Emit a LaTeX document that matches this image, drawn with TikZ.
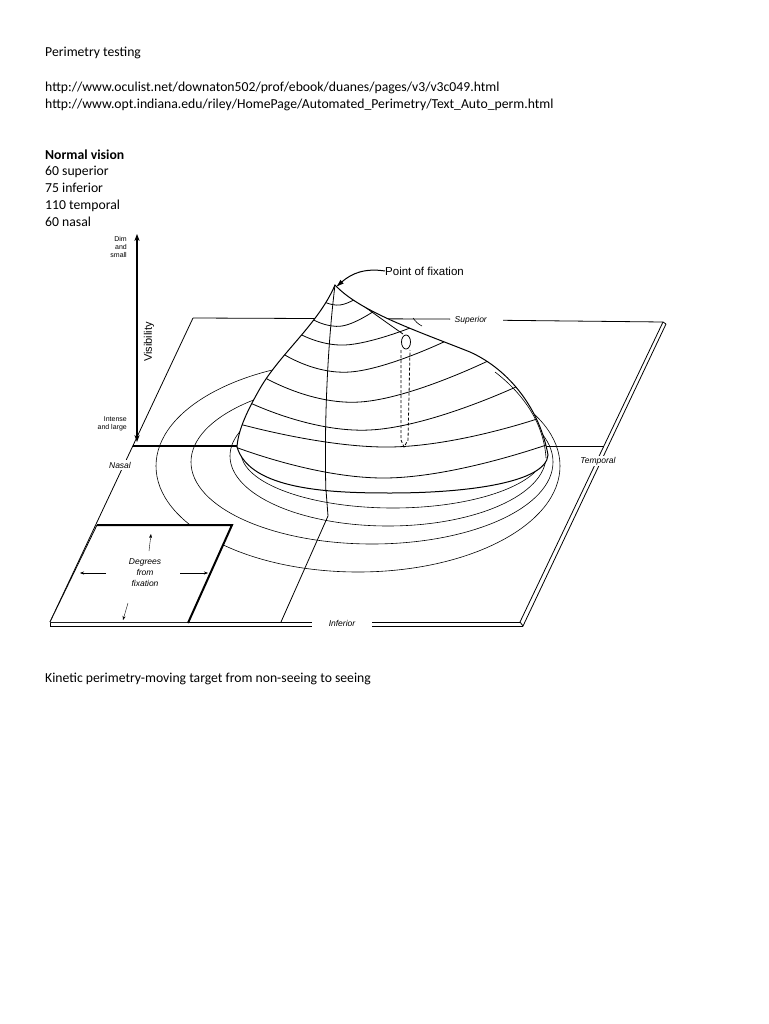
\documentclass[tikz,border=0pt]{standalone}
\usepackage{fontspec}
\setmainfont{Carlito}
\newfontfamily\lsans{Liberation Sans}
\usetikzlibrary{arrows.meta}
\begin{document}
\begin{tikzpicture}[x=1pt,y=-1pt,
  doc/.style={anchor=base west,inner sep=0pt,font=\fontsize{13.7}{16}\selectfont},
  lbl/.style={inner sep=1.5pt,fill=white,font=\lsans\itshape\fontsize{8.5}{10}\selectfont},
  tiny/.style={inner sep=0pt,align=right,font=\lsans\fontsize{7}{8}\selectfont},
  ln/.style={line width=0.8pt},
  thick2/.style={line width=2pt},
  ring/.style={line width=0.6pt}]
\useasboundingbox (0,0) rectangle (768,1024);
% document text
\node[doc] (t1) at (45,57) {Perimetry testing};
\node[doc] (t2) at (45,92) {http://www.oculist.net/downaton502/prof/ebook/duanes/pages/v3/v3c049.html};
\node[doc] (t3) at (45,109) {http://www.opt.indiana.edu/riley/HomePage/Automated\_Perimetry/Text\_Auto\_perm.html};
\node[doc,font=\bfseries\fontsize{13.7}{16}\selectfont] (t4) at (45,160) {Normal vision};
\node[doc] (t5) at (45,176) {60 superior};
\node[doc] (t6) at (45,193) {75 inferior};
\node[doc] (t7) at (45,210) {110 temporal};
\node[doc] (t8) at (45,226) {60 nasal};
\node[doc] (t9) at (45,682) {Kinetic perimetry-moving target from non-seeing to seeing};
% plane
\coordinate (TL) at (193,318); \coordinate (TR) at (663,322);
\coordinate (BL) at (50,622); \coordinate (BR) at (520,622);
\draw[ln] (TL) -- (450,319.1); \draw[ln] (503,320.3) -- (TR);
\draw[ln] (TL) -- (BL);
\draw[ln] (TR) -- (BR); \draw[ln] (666,324) -- (523,626) -- (BR);
\draw[ln] (TR) -- (666,324);
\draw[ln] (BL) -- (312,622); \draw[ln] (372,622) -- (BR);
\draw[ln] (50,626) -- (312,626); \draw[ln] (372,626) -- (523,626);
\draw[ln] (BL) -- (50,626);
% rings
\draw[ring] (358,466) ellipse [x radius=202,y radius=106];
\draw[ring] (372,462) ellipse [x radius=181,y radius=82];
\draw[ring] (388,456) ellipse [x radius=158,y radius=70];
\draw[ring] (393,452) ellipse [x radius=152,y radius=56];
% nasal / temporal lines
\draw[line width=1.3pt] (133,446) -- (238,446);
\draw[ln] (546,446) -- (604,446);
% meridian on plane
\draw[ln] (326,490) -- (328,516) -- (281,622);
% degree square
\fill[white] (97,525) -- (232,525) -- (189,622) -- (50,622) -- cycle;
\draw[ln] (97,525) -- (50,622);
\draw[thick2] (97,525) -- (232,525) -- (188,623);
\node[lbl,fill=none,align=center,font=\lsans\itshape\fontsize{8.5}{11}\selectfont] (deg) at (145,573) {Degrees\\from\\fixation};
\coordinate (a1) at (106,573); \coordinate (a2) at (80,573);
\coordinate (a3) at (180,573); \coordinate (a4) at (208,573);
\coordinate (a5) at (149,551); \coordinate (a6) at (151,534);
\coordinate (a7) at (128,603); \coordinate (a8) at (123,620);
\draw[-{Stealth[length=4pt]}] (a1) -- (a2);
\draw[-{Stealth[length=4pt]}] (a3) -- (a4);
\draw[-{Stealth[length=4pt]}] (a5) -- (a6);
\draw[-{Stealth[length=4pt]}] (a7) -- (a8);
% cone
\newcommand\conepath{(335,285) .. controls (318,325) and (278,355) .. (258,392) .. controls (245,415) and (238,432) .. (237,447) .. controls (250,490) and (330,493) .. (390,493) .. controls (470,493) and (546,482) .. (548,455) .. controls (540,410) and (510,370) .. (470,352) .. controls (420,332) and (360,312) .. (335,285) -- cycle}
\fill[white] \conepath;
\begin{scope}
\clip \conepath;
\foreach \la/\lb/\da/\db/\ra/\rb in {
  320/300/340/305/362/295,
  310/318/342/326/380/307,
  298/333/345/345/410/328,
  280/352/350/372/448/340,
  260/375/360/402/490/360,
  244/400/370/430/518/386,
  232/422/390/447/540/418,
  230/445/385/478/552/443}{
  \draw[ln] plot[smooth,tension=0.8] coordinates {(\la,\lb) (\da,\db) (\ra,\rb)};
}
\draw[ln] (335,285) .. controls (327,350) and (324,430) .. (326,495);
\draw[ln] (335,285) .. controls (355,300) and (380,318) .. (403,334);
\draw[ring] (495,372) .. controls (525,395) and (544,425) .. (546,458);
\end{scope}
\draw[line width=1pt] \conepath;
% target and dashed projection
\draw[ln] (406,342) ellipse [x radius=4.5,y radius=7];
\draw[ln,dashed,dash pattern=on 3pt off 2pt] (401,350) -- (401,440) -- (404,447) -- (408,440) -- (410,350);
% superior small arc
\draw[ring] (413,318) .. controls (416,322) and (418,324) .. (422,326);
% visibility axis
\coordinate (vtop) at (137,234); \coordinate (vbot) at (137,442);
\draw[line width=1.2pt,{Stealth[length=7pt]}-{Stealth[length=7pt]}] (vtop) -- (vbot);
\node[tiny,anchor=north east] (dim) at (127,236) {Dim\\and\\small};
\node[tiny,anchor=north east] (int) at (127,416) {Intense\\and large};
\node[inner sep=0pt,rotate=90,font=\lsans\fontsize{11}{12}\selectfont] (vis) at (149,342) {Visibility};
% labels
\node[lbl,anchor=west] (sup) at (453,320) {Superior};
\node[lbl] (tem) at (598,461) {Temporal};
\node[lbl] (nas) at (120,465) {Nasal};
\node[lbl] (inf) at (342,623) {Inferior};
\coordinate (apex) at (336,287);
\node[inner sep=0pt,anchor=west,font=\lsans\fontsize{11.5}{13}\selectfont] (pof) at (385,271) {Point of fixation};
\draw[line width=1pt,-{Latex[length=8pt,width=5pt]}] (pof.west) .. controls (365,268) and (352,273) .. (apex);
\end{tikzpicture}
\end{document}
